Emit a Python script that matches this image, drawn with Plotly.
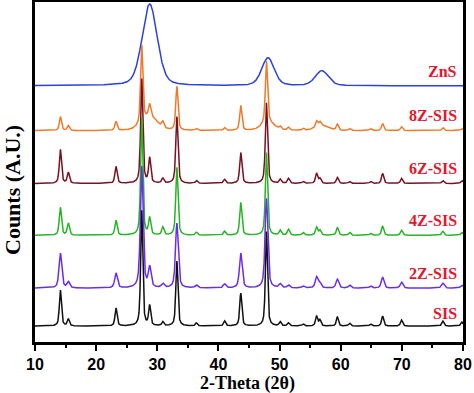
import numpy as np
import plotly.graph_objects as go

# ---------------- data ----------------
sample_names = ["SIS", "2Z-SIS", "4Z-SIS", "6Z-SIS", "8Z-SIS", "ZnS"]
sample_colors = ["#111111", "#6a2cf0", "#28b428", "#7a1020", "#f07a2c", "#2a40e6"]
stack_offsets = [16, 54, 107, 159, 212, 257]

# reflections of the sulfide phase (2-theta, degrees)
sis_peak_pos = [14.15, 15.45, 23.25, 27.45, 28.75, 30.9, 33.2, 36.4, 41.0, 43.65,
                47.85, 50.1, 51.45, 53.85, 56.05, 56.6, 59.45, 61.45, 64.9, 66.85,
                69.95, 76.7, 79.8]
sis_heights = [36, 7, 18, 116, 20, 4, 65, 3, 5, 33, 95, 4, 3, 2, 10, 6, 9, 3, 2, 10, 6, 5, 4]
z2_heights = [35, 6, 15, 122, 20, 4, 65, 3, 4, 35, 90, 4, 3, 2, 11, 5, 9, 3, 2, 11, 6, 5, 3]
z4_heights = [28, 12, 15, 118, 17, 8, 68, 3, 4, 33, 83, 5, 6, 3, 8, 5, 8, 3, 2, 9, 5, 4, 3]
z6_heights = [34, 11, 17, 105, 25, 5, 67, 3, 4, 31, 81, 4, 5, 2, 10, 5, 6, 2, 2, 10, 5, 3, 3]
z8_heights = [14, 5, 9, 78, 12, 6, 44, 2, 3, 25, 62, 3, 3, 2, 6, 4, 6, 2, 2, 7, 4, 3, 2]
sample_fwhm = [0.4, 0.52, 0.42, 0.42, 0.42]

# broad ZnS reflections
zns_peak_pos = [28.75, 48.1, 56.9]
zns_heights = [82, 28, 15]
zns_fwhm = [2.9, 2.4, 2.5]
z8_zns_heights = [14, 8, 5]   # broad ZnS humps visible under 8Z-SIS

label_y = [29, 69, 122, 174, 227, 271]

x_ticks = [10, 20, 30, 40, 50, 60, 70, 80]

# ---------------- build curves ----------------
two_theta = np.round(np.arange(10, 80.0001, 0.02), 3)


def pseudo_voigt(x, pos, height, fwhm, eta=0.6):
    s = fwhm / 2.0
    lor = 1.0 / (1.0 + ((x - pos) / s) ** 2)
    gau = np.exp(-np.log(2) * ((x - pos) / s) ** 2)
    return height * (eta * lor + (1 - eta) * gau)


def pattern(positions, heights, fwhm, eta=0.6):
    y = np.zeros_like(two_theta)
    for p, h in zip(positions, heights):
        y += pseudo_voigt(two_theta, p, h, fwhm, eta)
    return y


curves = []
for h, w in zip([sis_heights, z2_heights, z4_heights, z6_heights, z8_heights], sample_fwhm):
    curves.append(pattern(sis_peak_pos, h, w))
# add ZnS contribution to 8Z-SIS
curves[4] = curves[4] + sum(pseudo_voigt(two_theta, p, h, w, 0.3)
                            for p, h, w in zip(zns_peak_pos, z8_zns_heights, zns_fwhm))
zns_curve = sum(pseudo_voigt(two_theta, p, h, w, 0.3)
                for p, h, w in zip(zns_peak_pos, zns_heights, zns_fwhm))
curves.append(zns_curve)

fig = go.Figure()
draw_order = [5, 4, 3, 2, 1, 0]
for i in draw_order:
    fig.add_trace(go.Scatter(
        x=two_theta, y=curves[i] + stack_offsets[i], mode="lines",
        line=dict(color=sample_colors[i], width=1.5), name=sample_names[i],
        showlegend=False, hoverinfo="skip"))

for name, ly in zip(sample_names, label_y):
    fig.add_annotation(x=0.99, xref="paper", y=ly, yref="y", text=name,
                       showarrow=False, xanchor="right", yanchor="middle",
                       font=dict(family="Liberation Serif", size=16, color="#e8142c",
                                 weight="bold"))

plot_w = 474 - 35 - 11
plot_h = 393 - 2 - 51

# axis titles
fig.add_annotation(x=(247 - 35) / plot_w, xref="paper", y=-(383 - 342) / plot_h, yref="paper",
                   text="2-Theta (2θ)", showarrow=False, xanchor="center", yanchor="middle",
                   font=dict(family="Liberation Serif", size=18, color="black", weight="bold"))
fig.add_annotation(x=-(35 - 12) / plot_w, xref="paper", y=(342 - 190) / plot_h, yref="paper",
                   text="Counts (A.U.)", showarrow=False, textangle=-90,
                   xanchor="center", yanchor="middle",
                   font=dict(family="Liberation Serif", size=22, color="black", weight="bold"))

fig.update_layout(
    width=474, height=393,
    margin=dict(l=35, r=11, t=2, b=51, autoexpand=False),
    paper_bgcolor="white", plot_bgcolor="white",
    xaxis=dict(range=[10, 80], tickvals=x_ticks, ticktext=[str(t) for t in x_ticks],
               automargin=False,
               showline=True, linecolor="black", linewidth=2.5, mirror=True,
               ticks="outside", ticklen=6, tickwidth=2, tickcolor="black",
               minor=dict(dtick=5, ticks="outside", ticklen=3, tickwidth=2, tickcolor="black"),
               showgrid=False, zeroline=False,
               tickfont=dict(family="Liberation Sans", size=16, color="black", weight="bold")),
    yaxis=dict(range=[0, 341], automargin=False,
               showline=True, linecolor="black", linewidth=2.5, mirror=True,
               showticklabels=False, ticks="", showgrid=False, zeroline=False),
)

fig.write_html("out.html", config={"displayModeBar": False},
               post_script="document.body.style.margin='0';document.body.style.padding='0';")
